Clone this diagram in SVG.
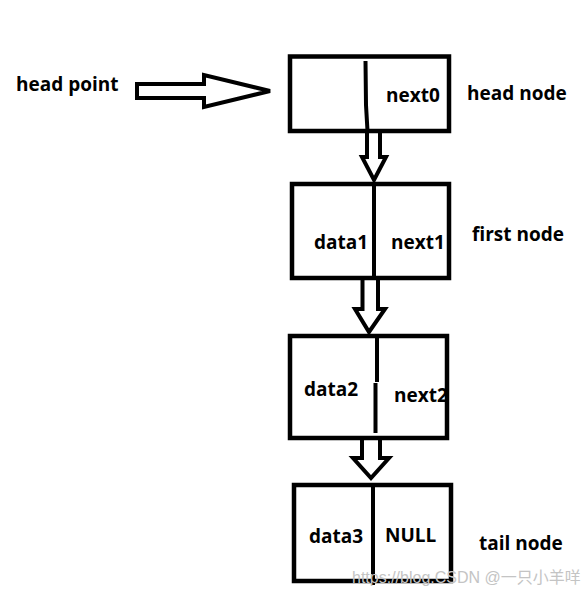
<svg xmlns="http://www.w3.org/2000/svg" width="587" height="594" viewBox="0 0 587 594">
<style>
.t{font-family:"Open Sans","Liberation Sans",sans-serif;font-weight:700;font-size:19px;fill:#000}
.box{fill:none;stroke:#000;stroke-width:4.5}
.div{fill:none;stroke:#000;stroke-width:4}
.arr{fill:#fff;stroke:#000;stroke-width:4;stroke-linejoin:miter}
.wm{font-family:"Liberation Sans","Noto Sans CJK SC",sans-serif;font-size:16px;fill:#c4c4c4}
</style>
<rect width="587" height="594" fill="#fff"/>
<g id="connectors">
<polygon class="arr" points="137,84 204,84 204,75 270,91 204,107 204,98 137,98"/>
<polygon class="arr" points="367,131 367,157 362,157 374,180 386,157 380,157 380,131"/>
<polygon class="arr" points="362.5,278 362.5,309 355,309 369,332 385,309 378,309 378,278"/>
<polygon class="arr" points="362,438 362,458 353,458 371,478 389,458 380,458 380,438"/>
</g>
<g id="head-point">
<text class="t" x="16" y="91">head point</text>
</g>
<g id="head-node">
<text class="t" x="386" y="102">next0</text>
<rect class="box" x="290" y="56.5" width="159" height="74.5"/>
<path class="div" d="M365.5,61 L366,105 L367.5,131"/>
<text class="t" x="467" y="100">head node</text>
</g>
<g id="first-node">
<text class="t" x="314" y="249">data1</text>
<text class="t" x="391" y="249">next1</text>
<rect class="box" x="292" y="184" width="157" height="94"/>
<path class="div" d="M374,184 V278"/>
<text class="t" x="472" y="241">first node</text>
</g>
<g id="second-node">
<text class="t" x="304" y="396">data2</text>
<text class="t" x="394" y="402">next2</text>
<rect class="box" x="290" y="336" width="157" height="102"/>
<path class="div" d="M377,336 V382 M375.5,383 V433"/>
</g>
<g id="tail-node">
<text class="t" x="309" y="543">data3</text>
<text class="t" x="385" y="542">NULL</text>
<rect class="box" x="294" y="485" width="157" height="96"/>
<path class="div" d="M373,485 V585"/>
<text class="t" x="479" y="550">tail node</text>
</g>
<text class="wm" x="352" y="583">https://blog.CSDN @一只小羊咩</text>
</svg>
